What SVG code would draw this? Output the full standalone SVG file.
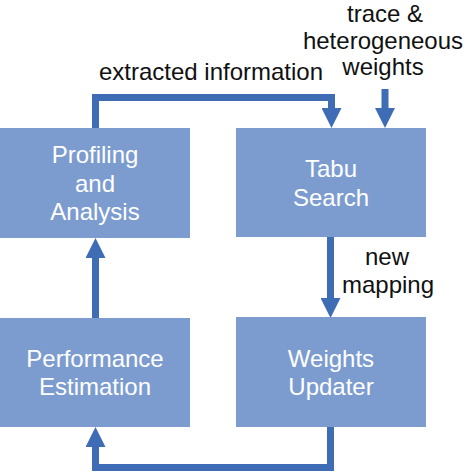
<svg xmlns="http://www.w3.org/2000/svg" width="474" height="474" viewBox="0 0 474 474">
<defs>
<style>
.box{fill:#7C9CD0;}
.lbl{font-family:"Liberation Sans",Arial,sans-serif;font-size:24px;fill:#ffffff;text-anchor:middle;}
.txt{font-family:"Liberation Sans",Arial,sans-serif;font-size:24px;fill:#111111;text-anchor:middle;}
.conn{fill:none;stroke:#3E6DB6;stroke-width:7;stroke-linejoin:miter;stroke-linecap:butt;}
</style>
<marker id="ah" viewBox="0 0 20 20" refX="0" refY="10" markerWidth="20" markerHeight="20" markerUnits="userSpaceOnUse" orient="auto">
<path d="M0,0 L20,10 L0,20 z" fill="#3E6DB6"/>
</marker>
</defs>
<rect width="474" height="474" fill="#ffffff"/>
<g id="connectors">
<path class="conn" d="M95.5,128 V97.5 H331.5 V108" marker-end="url(#ah)"/>
<path class="conn" d="M385,89 V108" marker-end="url(#ah)"/>
<path class="conn" d="M330.5,237 V298" marker-end="url(#ah)"/>
<path class="conn" d="M330.5,427 V467.5 H95.5 V447" marker-end="url(#ah)"/>
<path class="conn" d="M95.5,318 V258" marker-end="url(#ah)"/>
</g>
<g id="profiling">
<rect class="box" x="0" y="128" width="190" height="110"/>
<text class="lbl" x="95" y="163">Profiling</text>
<text class="lbl" x="95" y="192">and</text>
<text class="lbl" x="95" y="220">Analysis</text>
</g>
<g id="tabu">
<rect class="box" x="236" y="128" width="190" height="109"/>
<text class="lbl" x="331" y="177">Tabu</text>
<text class="lbl" x="331" y="206">Search</text>
</g>
<g id="performance">
<rect class="box" x="0" y="318" width="190" height="109"/>
<text class="lbl" x="95" y="367">Performance</text>
<text class="lbl" x="95" y="395">Estimation</text>
</g>
<g id="weights">
<rect class="box" x="236" y="317" width="190" height="110"/>
<text class="lbl" x="331" y="367">Weights</text>
<text class="lbl" x="331" y="395">Updater</text>
</g>
<g id="labels">
<text class="txt" x="211" y="80">extracted information</text>
<text class="txt" x="385" y="22">trace &amp;</text>
<text class="txt" x="383" y="49">heterogeneous</text>
<text class="txt" x="383" y="75">weights</text>
<text class="txt" x="387" y="265">new</text>
<text class="txt" x="388" y="293">mapping</text>
</g>
</svg>
